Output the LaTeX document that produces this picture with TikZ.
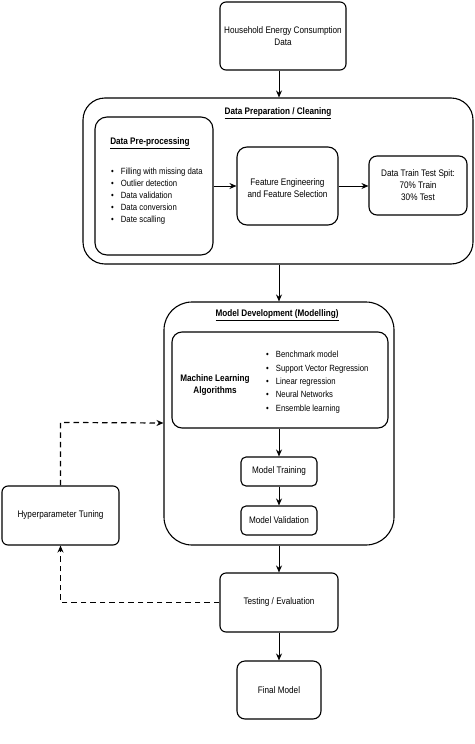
\documentclass[tikz,border=0pt]{standalone}
\usepackage{fontspec}
\setmainfont{Liberation Sans}[FakeStretch=0.86]
\newfontfamily\capfont{Liberation Serif}
\usetikzlibrary{arrows.meta}
\tikzset{
  box/.style={draw, line width=1.1pt, rounded corners=6pt, minimum width=#1},
  bigbox/.style={draw, line width=1.1pt, rounded corners=22pt},
  lbl/.style={font=\fontsize{9.5}{12}\selectfont, align=center, inner sep=0pt},
  lst/.style={font=\fontsize{9}{12}\selectfont, align=left, inner sep=0pt, anchor=north west},
  ttl/.style={font=\fontsize{9.5}{12}\selectfont\bfseries, align=center, inner sep=0pt},
  arr/.style={-{Stealth[length=7pt,width=6pt]}, line width=0.9pt},
  darr/.style={-{Stealth[length=7pt,width=6pt]}, line width=1.2pt, dash pattern=on 5.5pt off 4pt},
}
\newcommand{\bul}{\textbullet\hspace{7pt}}
\begin{document}
\begin{tikzpicture}[x=1pt,y=-1pt]
\useasboundingbox (0,0) rectangle (474,744);
\clip (0,0) rectangle (474,744);
% top
\node[box=126pt, minimum height=68pt] (hec) at (283,36) {};
\node[lbl] (hect) at (283,36) {Household Energy Consumption\\Data};
% data preparation
\node[bigbox, minimum width=390pt, minimum height=166pt] (dp) at (278,181) {};
\node[ttl] (dpt) at (278,113) {\underline{Data Preparation / Cleaning}};
\node[box=118pt, minimum height=138pt, rounded corners=12pt] (pre) at (154,186) {};
\node[ttl] (pret) at (150,143) {\underline{Data Pre-processing}};
\node[lst] (prel) at (111,168) {\bul Filling with missing data\\
\bul Outlier detection\\
\bul Data validation\\
\bul Data conversion\\
\bul Date scalling};
\node[box=101pt, minimum height=78pt, rounded corners=10pt] (fe) at (287.5,186) {};
\node[lbl] (fet) at (287.5,188) {Feature Engineering\\and Feature Selection};
\node[box=98pt, minimum height=59pt, rounded corners=8pt] (split) at (418,185.5) {};
\node[lbl] (splitt) at (418,185.5) {Data Train Test Spit:\\70\% Train\\30\% Test};
% model development
\node[bigbox, minimum width=230pt, minimum height=243pt, rounded corners=28pt] (md) at (279,423.5) {};
\node[ttl] (mdt) at (277,315) {\underline{Model Development (Modelling)}};
\node[box=216pt, minimum height=96pt, rounded corners=10pt] (ml) at (280,380) {};
\node[ttl] (mlt) at (215,385.5) {Machine Learning\\Algorithms};
\node[lst] (mll) at (266,351) {\bul Benchmark model\\[1.4pt]
\bul Support Vector Regression\\[1.4pt]
\bul Linear regression\\[1.4pt]
\bul Neural Networks\\[1.4pt]
\bul Ensemble learning};
\node[box=76pt, minimum height=29pt, rounded corners=5pt] (train) at (279,471.5) {};
\node[lbl] (traint) at (279,471.5) {Model Training};
\node[box=76pt, minimum height=29pt, rounded corners=5pt] (val) at (279,520.5) {};
\node[lbl] (valt) at (279,520.5) {Model Validation};
% testing / final
\node[box=118pt, minimum height=59pt] (test) at (279,602.5) {};
\node[lbl] (testt) at (279,602.5) {Testing / Evaluation};
\node[box=84pt, minimum height=58pt, rounded corners=8pt] (final) at (279,690) {};
\node[lbl] (finalt) at (279,690) {Final Model};
% hyperparameter
\node[box=117pt, minimum height=59pt] (hyp) at (60.5,515.5) {};
\node[lbl] (hypt) at (60.5,515.5) {Hyperparameter Tuning};
% caption (cut at bottom, as in the reference)
\node[font=\capfont\fontsize{14.5}{16}\selectfont, anchor=base west, inner sep=0pt] (cap) at (116,755.5) {Fig.~1.\enspace General forecasting model design framework};
% connectors
\coordinate (col) at (279,0);
\draw[arr] (hec.south -| col) -- (dp.north -| col);
\draw[arr] (pre.east |- fe) -- (fe.west);
\draw[arr] (fe.east) -- (split.west |- fe);
\draw[arr] (dp.south -| col) -- (md.north -| col);
\draw[arr] (ml.south -| col) -- (train.north);
\draw[arr] (train.south) -- (val.north);
\draw[arr] (md.south -| col) -- (test.north);
\draw[arr] (test.south) -- (final.north);
\draw[darr] (hyp.north) -- ++(0,-63) -- (md.west |- 0,423);
\draw[darr] (test.west) -| (hyp.south);
\end{tikzpicture}
\end{document}
